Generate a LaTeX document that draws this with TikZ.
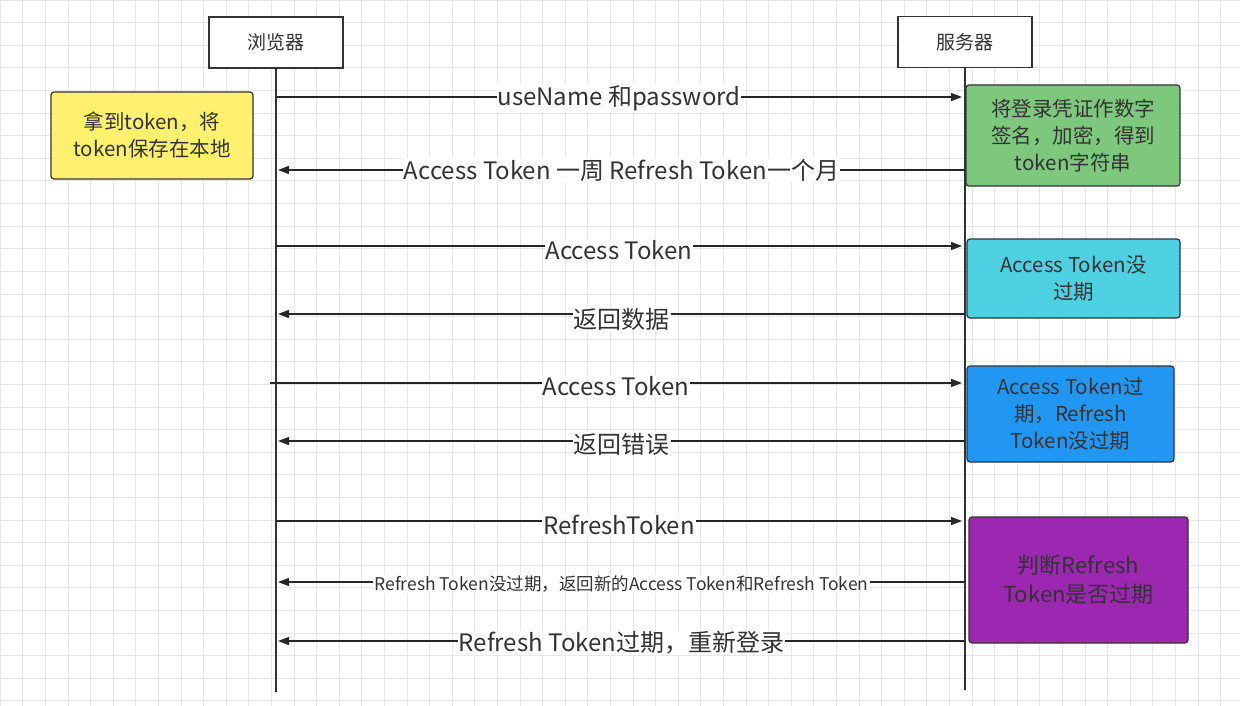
\documentclass[tikz,border=0pt]{standalone}
\usepackage{fontspec}
\setmainfont{Noto Sans CJK SC}
\usetikzlibrary{arrows.meta}
\begin{document}
\begin{tikzpicture}[x=1pt,y=-1pt,
  actor/.style={draw=black!80,line width=1.2pt,fill=white,minimum width=134pt,minimum height=51pt,text=black!80,font=\fontsize{19}{22}\selectfont},
  note/.style={draw=black!80,line width=1.2pt,rounded corners=3pt,align=center,text=black!80,font=\fontsize{20.5}{27}\selectfont},
  msg/.style={draw=black!85,line width=1.2pt,-{Triangle[length=11pt,width=8pt]}},
  lbl/.style={fill=white,inner sep=1pt,text=black!80,font=\fontsize{24}{27}\selectfont}]
\useasboundingbox (0,0) rectangle (1240,706);
\fill[white] (0,0) rectangle (1240,706);
\foreach \i in {0,...,55} \draw[black!9,line width=0.6pt] (\i*22.6,0) -- (\i*22.6,706);
\foreach \i in {0,...,31} \draw[black!9,line width=0.6pt] (0,\i*22.6) -- (1240,\i*22.6);
\node[actor] (b) at (276,42.5) {浏览器};
\node[actor] (s) at (965,42) {服务器};
\coordinate (bend) at (276,692);
\coordinate (send) at (965,690);
\draw[black!80,line width=1.4pt] (b.south) -- (bend);
\draw[black!80,line width=1.4pt] (s.south) -- (send);
\node[note,fill={rgb,255:red,255;green,240;blue,110},minimum width=202pt,minimum height=87pt] (y) at (152,135.5) {拿到token，将\\token保存在本地};
\node[note,fill={rgb,255:red,126;green,200;blue,125},minimum width=214pt,minimum height=101pt] (g) at (1073,135.5) {将登录凭证作数字\\签名，加密，得到\\token字符串};
\node[note,fill={rgb,255:red,77;green,208;blue,225},minimum width=213pt,minimum height=79pt] (c) at (1073.5,278.5) {Access Token没\\过期};
\node[note,fill={rgb,255:red,33;green,150;blue,243},minimum width=207pt,minimum height=96pt] (bl) at (1070.5,414) {Access Token过\\期，Refresh\\Token没过期};
\node[note,fill={rgb,255:red,156;green,39;blue,176},minimum width=219pt,minimum height=126pt,font=\fontsize{22}{29}\selectfont] (p) at (1078.5,580) {判断Refresh\\Token是否过期};
\foreach \n/\y in {a1/97,a3/246,a5/383,a7/521}{
  \coordinate (\n l) at (276,\y); \coordinate (\n r) at (962,\y);}
\foreach \n/\y in {a2/170,a4/314,a6/441,a8/582,a9/641}{
  \coordinate (\n l) at (278,\y); \coordinate (\n r) at (965,\y);}
\draw[msg] (a1l) -- node[lbl,pos=0.5,yshift=-1pt]{useName 和password} (a1r);
\draw[msg] (a2r) -- node[lbl,pos=0.5]{Access Token 一周 Refresh Token一个月} (a2l);
\draw[msg] (a3l) -- node[lbl,yshift=-4pt]{Access Token} (a3r);
\draw[msg] (a4r) -- node[lbl,yshift=-5pt]{返回数据} (a4l);
\draw[msg] ([xshift=-6pt]a5l) -- node[lbl,yshift=-3pt]{Access Token} (a5r);
\draw[msg] (a6r) -- node[lbl,yshift=-3pt]{返回错误} (a6l);
\draw[msg] (a7l) -- node[lbl,yshift=-4pt]{RefreshToken} (a7r);
\draw[msg] (a8r) -- node[lbl,yshift=-2pt,font=\fontsize{17.5}{20}\selectfont]{Refresh Token没过期，返回新的Access Token和Refresh Token} (a8l);
\draw[msg] (a9r) -- node[lbl,yshift=-2pt]{Refresh Token过期，重新登录} (a9l);
\end{tikzpicture}
\end{document}
